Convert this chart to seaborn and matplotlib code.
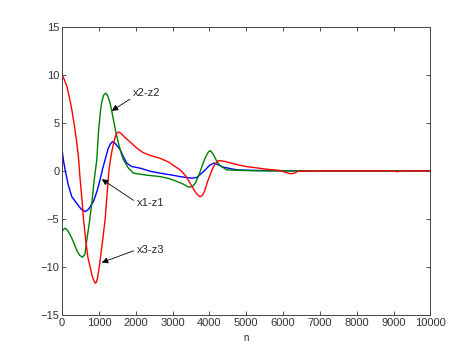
import numpy as np
import pandas as pd
import matplotlib
matplotlib.use("Agg")
import matplotlib.pyplot as plt
import seaborn as sns

# x1-z1 (blue)
n_x1 = [0, 40, 82, 170, 264, 400, 520, 625, 720, 850, 950, 1030, 1100, 1170, 1250,
        1310, 1370, 1430, 1500, 1576, 1660, 1758, 1890, 2120, 2400, 2663, 3000, 3207,
        3524, 3650, 3840, 4000, 4112, 4200, 4384, 4747, 5200, 6000, 7000, 8000, 9000, 10000]
e_x1 = [2.2, 1.0, 0.1, -1.5, -2.7, -3.4, -4.0, -4.24, -4.0, -3.2, -2.1, -0.94, 0.2, 1.2, 2.3,
        2.8, 3.05, 2.9, 2.6, 2.2, 1.5, 0.8, 0.45, 0.28, -0.05, -0.24, -0.45, -0.6,
        -0.76, -0.7, -0.07, 0.55, 0.8, 0.7, 0.38, 0.1, 0.05, 0.0, 0.0, 0.0, 0.0, 0.0]

# x2-z2 (green)
n_x2 = [0, 40, 82, 150, 250, 330, 400, 480, 553, 620, 670, 740, 807, 870, 942, 987,
        1040, 1078, 1130, 1187, 1240, 1304, 1350, 1395, 1460, 1530, 1600, 1666, 1802,
        1938, 2300, 2663, 2900, 3116, 3300, 3433, 3530, 3614, 3700, 3796, 3890, 3977,
        4030, 4112, 4200, 4293, 4475, 4800, 5300, 6000, 7000, 8000, 9000, 10000]
e_x2 = [-6.3, -6.1, -5.97, -6.2, -6.9, -7.6, -8.3, -8.8, -9.0, -8.7, -7.2, -5.4, -3.4, -1.0, 1.15, 4.0,
        6.2, 7.2, 7.9, 8.1, 7.8, 7.05, 6.2, 5.3, 4.0, 2.9, 1.9, 1.15, 0.28,
        -0.24, -0.45, -0.6, -0.8, -1.1, -1.4, -1.7, -1.65, -1.3, -0.6, 0.45, 1.4, 2.0,
        2.1, 1.67, 1.0, 0.52, 0.1, 0.05, 0.0, 0.0, 0.0, 0.0, 0.0, 0.0]

# x3-z3 (red)
n_x3 = [0, 60, 130, 200, 265, 330, 400, 450, 490, 540, 580, 650, 700, 760, 820, 870,
        900, 930, 960, 1010, 1090, 1170, 1220, 1270, 1310, 1350, 1400, 1440, 1480, 1530,
        1600, 1700, 1850, 2030, 2200, 2400, 2663, 2900, 3050, 3207, 3350, 3478, 3600,
        3680, 3750, 3810, 3870, 3932, 4020, 4112, 4180, 4250, 4400, 4600, 4800, 5000,
        5300, 5600, 5900, 6100, 6200, 6300, 6400, 7000, 8000, 9000, 9100, 9200, 10000]
e_x3 = [10.0, 9.5, 8.8, 7.6, 6.35, 4.8, 2.9, 1.2, -0.9, -3.0, -5.0, -7.5, -9.0, -10.0, -11.0, -11.5,
        -11.7, -11.6, -11.2, -10.0, -7.6, -5.0, -2.5, 0.0, 1.1, 2.0, 2.9, 3.5, 3.9, 4.05,
        3.9, 3.5, 3.0, 2.36, 1.9, 1.6, 1.3, 0.9, 0.5, 0.1, -0.5, -1.3, -2.1,
        -2.5, -2.7, -2.55, -2.1, -1.3, -0.4, 0.45, 0.85, 1.07, 1.0, 0.8, 0.6, 0.45,
        0.3, 0.15, 0.05, -0.2, -0.3, -0.25, -0.05, 0.0, 0.0, 0.0, -0.1, 0.0, 0.0]

series_names = ["x1-z1", "x2-z2", "x3-z3"]
series_colors = ["#0000ff", "#008000", "#ff0000"]

df = pd.concat([
    pd.DataFrame({"n": n_x1, "err": e_x1, "series": "x1-z1"}),
    pd.DataFrame({"n": n_x2, "err": e_x2, "series": "x2-z2"}),
    pd.DataFrame({"n": n_x3, "err": e_x3, "series": "x3-z3"}),
])

sns.set_style("ticks")
plt.rcParams["font.family"] = ["Liberation Sans", "DejaVu Sans"]

fig = plt.figure(figsize=(4.74, 3.53), dpi=100)
ax = fig.add_axes([0.131, 0.108, 0.777, 0.816])

sns.lineplot(data=df, x="n", y="err", hue="series", hue_order=series_names,
             palette=dict(zip(series_names, series_colors)), estimator=None,
             sort=False, linewidth=1.0, legend=False, ax=ax)

ax.set_xlim(0, 10000)
ax.set_ylim(-15, 15)
ax.set_xticks(np.arange(0, 10001, 1000))
ax.set_yticks(np.arange(-15, 16, 5))
ax.set_xlabel("n", fontsize=7)
ax.set_ylabel("")
ax.tick_params(direction="in", top=True, right=True, labelsize=8, length=3,
               width=0.6, colors="#333333", pad=2)
for sp in ax.spines.values():
    sp.set_visible(True)
    sp.set_linewidth(0.7)
    sp.set_color("#444444")

arrow = dict(arrowstyle="-|>", color="black", lw=0.6, mutation_scale=9,
             shrinkA=0, shrinkB=0)
ax.annotate("x2-z2", xy=(1350, 6.25), xytext=(1930, 8.1), fontsize=8,
            va="center", ha="left", arrowprops=dict(arrow, relpos=(0, 0.1)))
ax.annotate("x1-z1", xy=(1078, -0.87), xytext=(2030, -3.3), fontsize=8,
            va="center", ha="left", arrowprops=dict(arrow, relpos=(0, 0.5)))
ax.annotate("x3-z3", xy=(1078, -9.55), xytext=(2030, -8.2), fontsize=8,
            va="center", ha="left", arrowprops=dict(arrow, relpos=(0, 0.5)))

fig.savefig("out.png", dpi=100)
